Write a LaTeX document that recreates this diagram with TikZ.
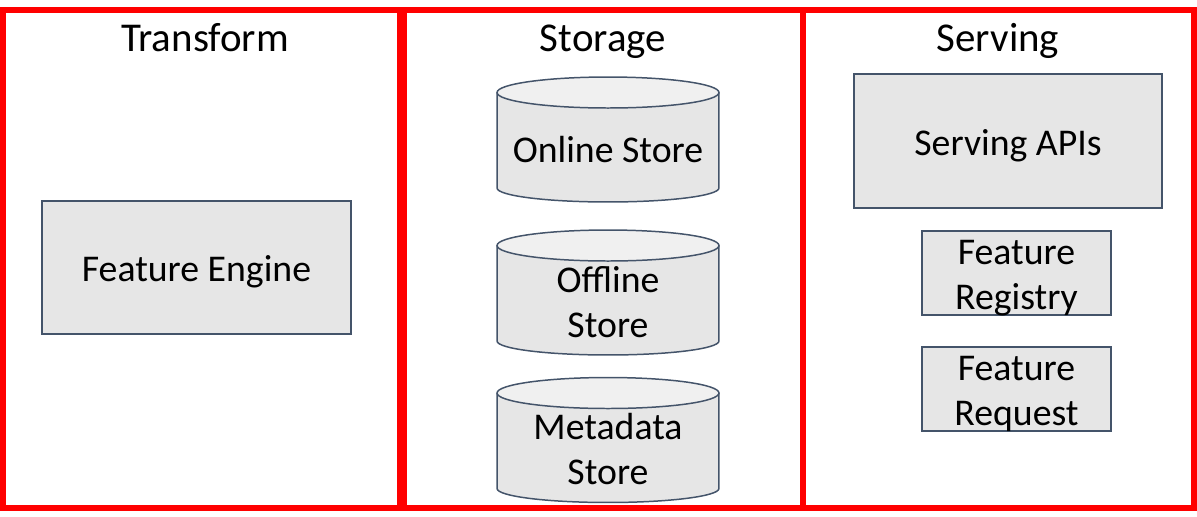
\documentclass[tikz,border=0pt]{standalone}
\usepackage{fontspec}
\setmainfont{Carlito}

\definecolor{panelred}{RGB}{255,0,0}
\definecolor{boxline}{RGB}{68,84,106}
\definecolor{boxfill}{RGB}{230,230,230}
\definecolor{topfill}{RGB}{240,240,240}

\begin{document}
\begin{tikzpicture}[x=0.02cm, y=-0.02cm,
  every node/.style={font=\fontsize{21.5}{25.5}\selectfont, align=center},
  panel/.style={draw=panelred, line width=3.4pt, minimum height=9.97cm},
  heading/.style={anchor=base, font=\fontsize{23.3}{28}\selectfont},
  block/.style={draw=boxline, fill=boxfill, line width=0.85pt, text height=20pt},
  smallblock/.style={block, minimum width=3.78cm, minimum height=1.68cm,
    inner ysep=0pt, text height=41.5pt, text depth=0pt},
  storeline/.style={draw=boxline, line width=0.85pt},
  store/.style={minimum width=4.44cm+1pt, minimum height=2.5cm+1pt, inner sep=0pt,
    text height=26pt, path picture={
      \draw[storeline, fill=boxfill]
        ([shift={(-2.22cm,0.94cm)}]path picture bounding box.center)
        -- ([shift={(-2.22cm,-0.97cm)}]path picture bounding box.center)
        arc[start angle=180, end angle=360, x radius=2.22cm, y radius=0.28cm]
        -- ([shift={(2.22cm,0.94cm)}]path picture bounding box.center);
      \draw[storeline, fill=topfill] ([yshift=0.94cm]path picture bounding box.center)
        ellipse[x radius=2.22cm, y radius=0.31cm];
    }}]
  \useasboundingbox (0,0) rectangle (1197,517);

  % Panels
  \node[panel, minimum width=7.94cm] (trf) at (201.5,259.25) {};
  \node[panel, minimum width=7.98cm] (sto) at (603.5,259.25) {};
  \node[panel, minimum width=7.82cm] (srv) at (998.5,259.25) {};

  \node[heading] (trfh) at (205,52) {Transform};
  \node[heading] (stoh) at (603,52) {Storage};
  \node[heading] (srvh) at (998,52) {Serving};

  % Transform
  \node[block, minimum width=6.18cm, minimum height=2.66cm] (eng) at (196.5,267.5) {Feature Engine};

  % Storage
  \node[store] (onl) at (608,139.5) {Online Store};
  \node[store, text height=51pt] (off) at (608,292.5) {Offline\\Store};
  \node[store, text height=51pt] (meta) at (608,440) {Metadata\\Store};

  % Serving
  \node[block, minimum width=6.16cm, minimum height=2.68cm] (api) at (1008,141) {Serving APIs};
  \node[smallblock] (reg) at (1016.5,273) {Feature\\Registry};
  \node[smallblock] (req) at (1016.5,389) {Feature\\Request};
\end{tikzpicture}
\end{document}
